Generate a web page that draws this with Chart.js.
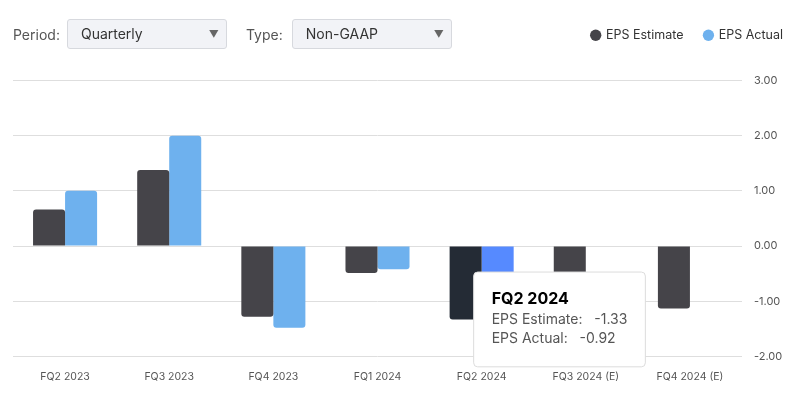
<!DOCTYPE html>
<html lang="en">
<head>
  <meta charset="UTF-8" />
  <meta name="viewport" content="width=device-width, initial-scale=1.0" />
  <title>EPS Estimate vs Actual</title>
  <script src="https://cdn.jsdelivr.net/npm/chart.js@4.4.0"></script>
  <style>
    body {
      margin: 0;
      background: #fff;
      font-family: Inter, 'Noto Sans', sans-serif;
    }

    .wrap {
      position: relative;
      width: 804px;
      height: 397px;
    }

    canvas {
      display: block;
    }

    .controls {
      position: absolute;
      left: 13px;
      top: 19px;
      display: flex;
      align-items: center;
      font-size: 14px;
      color: #555;
    }

    .select {
      box-sizing: border-box;
      position: relative;
      width: 160px;
      height: 30px;
      margin-left: 7px;
      margin-right: 19px;
      padding-left: 13px;
      line-height: 28px;
      background: #f2f3f7;
      border: 1px solid #d7d9de;
      border-radius: 3px;
      color: #333;
    }

    .select.type {
      margin-left: 9px;
    }

    .select::after {
      content: '\25BC';
      position: absolute;
      right: 7px;
      top: 0;
      font-size: 10px;
      color: #666;
    }
  </style>
</head>
<body>
  <div class="wrap">
    <canvas id="epsChart" width="804" height="397"></canvas>
    <div class="controls">
      <span>Period:</span>
      <div class="select">Quarterly</div>
      <span>Type:</span>
      <div class="select type">Non-GAAP</div>
    </div>
  </div>

  <script>
    const quarters = ['FQ2 2023', 'FQ3 2023', 'FQ4 2023', 'FQ1 2024', 'FQ2 2024', 'FQ3 2024 (E)', 'FQ4 2024 (E)'];
    const epsEstimate = [0.66, 1.38, -1.28, -0.49, -1.33, -0.95, -1.13];
    const epsActual = [1.00, 2.00, -1.48, -0.42, -0.92, null, null];
    const yMin = -2;
    const yMax = 3;
    const hoveredIndex = 4;

    // tooltip sits just below the zero line, next to the hovered quarter
    Chart.Tooltip.positioners.belowZero = function (items) {
      if (!items.length) return false;
      const x = items.reduce((s, it) => s + it.element.x, 0) / items.length;
      return { x: x - 4, y: this.chart.scales.y.getPixelForValue(0) + 26 };
    };

    // extra room between legend and plot
    const legendSpacer = {
      id: 'legendSpacer',
      beforeInit(chart) {
        const fit = chart.legend.fit;
        chart.legend.fit = function () {
          fit.call(this);
          this.height += 29;
        };
      }
    };

    document.addEventListener('DOMContentLoaded', function () {
      const ctx = document.getElementById('epsChart').getContext('2d');
      const chart = new Chart(ctx, {
        type: 'bar',
        data: {
          labels: quarters,
          datasets: [{
            label: 'EPS Estimate',
            data: epsEstimate,
            backgroundColor: '#454449',
            hoverBackgroundColor: '#242b35',
            borderRadius: 3,
            categoryPercentage: 0.615,
            barPercentage: 1
          }, {
            label: 'EPS Actual',
            data: epsActual,
            backgroundColor: '#6eb1ee',
            hoverBackgroundColor: '#568aff',
            borderRadius: 3,
            categoryPercentage: 0.615,
            barPercentage: 1
          }]
        },
        options: {
          responsive: false,
          animation: false,
          events: [],
          layout: { padding: { top: 8, left: 13, right: 0, bottom: 0 } },
          scales: {
            x: {
              grid: { display: false, drawTicks: false },
              border: { display: false },
              ticks: { color: '#555', font: { family: 'Inter', size: 10.5 }, padding: 14, maxRotation: 0, autoSkip: false }
            },
            y: {
              position: 'right',
              min: yMin,
              max: yMax,
              grid: { color: '#dedede', drawTicks: false },
              border: { display: false },
              ticks: {
                stepSize: 1,
                color: '#555',
                padding: 12,
                font: { family: 'Inter', size: 11 },
                callback: v => v.toFixed(2)
              },
              afterFit(scale) { scale.width = 62; }
            }
          },
          plugins: {
            legend: {
              position: 'top',
              align: 'end',
              labels: {
                color: '#333',
                font: { family: 'Inter', size: 12.5 },
                usePointStyle: true,
                pointStyle: 'circle',
                boxWidth: 8,
                boxHeight: 8,
                padding: 21
              }
            },
            tooltip: {
              position: 'belowZero',
              xAlign: 'left',
              yAlign: 'top',
              caretSize: 0,
              caretPadding: 0,
              cornerRadius: 4,
              backgroundColor: '#fff',
              borderColor: '#dcdcdc',
              borderWidth: 1,
              displayColors: false,
              padding: { top: 18, bottom: 20, left: 18, right: 18 },
              titleColor: '#000',
              titleFont: { family: 'Inter', size: 16, weight: 'bold' },
              titleMarginBottom: 2,
              bodyColor: '#555',
              bodyFont: { family: 'Inter', size: 14 },
              bodySpacing: 2,
              callbacks: {
                label: c => `${c.dataset.label}:   ${c.parsed.y.toFixed(2)}`
              }
            }
          }
        },
        plugins: [legendSpacer]
      });

      const active = [{ datasetIndex: 0, index: hoveredIndex }, { datasetIndex: 1, index: hoveredIndex }];
      chart.setActiveElements(active);
      chart.tooltip.setActiveElements(active, { x: 0, y: 0 });
      chart.draw();
    });
  </script>
</body>
</html>
